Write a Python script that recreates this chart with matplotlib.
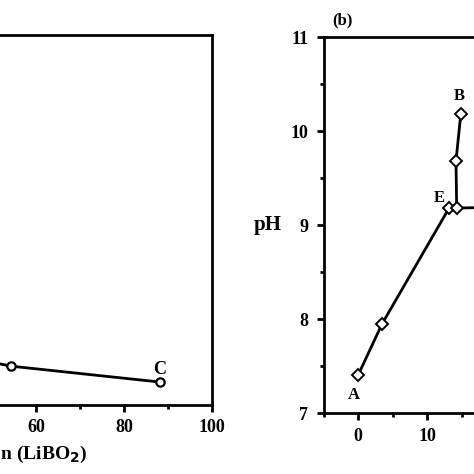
import matplotlib
matplotlib.use("Agg")
import matplotlib.pyplot as plt
from matplotlib.ticker import MultipleLocator

plt.rcParams['font.family'] = ['Liberation Serif', 'DejaVu Serif']
plt.rcParams['font.weight'] = 'bold'

# left panel (a)
xa = [40, 54.3, 88.2]
ya = [14.0, 10.5, 6.2]
# right panel (b)
xb = [0, 3.5, 13.2, 14.3, 14.2, 14.9]
yb = [7.40, 7.95, 9.18, 9.18, 9.68, 10.18]
xb_tail = [14.3, 40]
yb_tail = [9.18, 9.22]

W = 474
fig = plt.figure(figsize=(4.74, 4.74), dpi=100)

def pos(l, r, t, b):
    return [l / W, 1 - b / W, (r - l) / W, (b - t) / W]

axa = fig.add_axes(pos(-228, 212, 35, 405))
axa.plot(xa, ya, '-', color='black', lw=2, marker='o', ms=6, mfc='white', mec='black', mew=1.6)
axa.set_xlim(0, 100)
axa.set_ylim(0, 100)
axa.xaxis.set_major_locator(MultipleLocator(20))
axa.xaxis.set_minor_locator(MultipleLocator(10))
axa.set_yticks([])
axa.tick_params(axis='x', which='major', direction='out', length=5, width=2, labelsize=13, pad=5)
axa.tick_params(axis='x', which='minor', direction='out', length=3, width=2)
for s in axa.spines.values():
    s.set_linewidth(2)
axa.set_xlabel('Mass fraction (LiBO$_\\mathbf{2}$)', fontsize=14, fontweight='bold', labelpad=6)
axa.text(88.2, 8.3, 'C', fontsize=13, fontweight='bold', ha='center')

axb = fig.add_axes(pos(323.5, 323.5 + 35 * 6.9, 37, 413))
axb.plot(xb_tail, yb_tail, '-', color='black', lw=2)
axb.plot(xb, yb, '-', color='black', lw=2, marker='D', ms=6, mfc='white', mec='black', mew=1.4)
axb.set_xlim(-5, 30)
axb.set_ylim(7, 11)
axb.xaxis.set_major_locator(MultipleLocator(10))
axb.xaxis.set_minor_locator(MultipleLocator(5))
axb.yaxis.set_major_locator(MultipleLocator(1))
axb.yaxis.set_minor_locator(MultipleLocator(0.5))
axb.tick_params(which='major', direction='out', length=5, width=2, labelsize=13, pad=6)
axb.tick_params(which='minor', direction='out', length=3, width=2)
for s in axb.spines.values():
    s.set_linewidth(2)
axb.set_ylabel('pH', fontsize=15, fontweight='bold', rotation=0, labelpad=16, va='center')
axb.text(-0.6, 7.15, 'A', fontsize=12, fontweight='bold', ha='center')
axb.text(11.8, 9.24, 'E', fontsize=12, fontweight='bold', ha='center')
axb.text(14.7, 10.33, 'B', fontsize=12, fontweight='bold', ha='center')
fig.text(342 / W, 1 - 20 / W, '(b)', fontsize=12, fontweight='bold', ha='center', va='center')

fig.savefig('out.png', dpi=100)
